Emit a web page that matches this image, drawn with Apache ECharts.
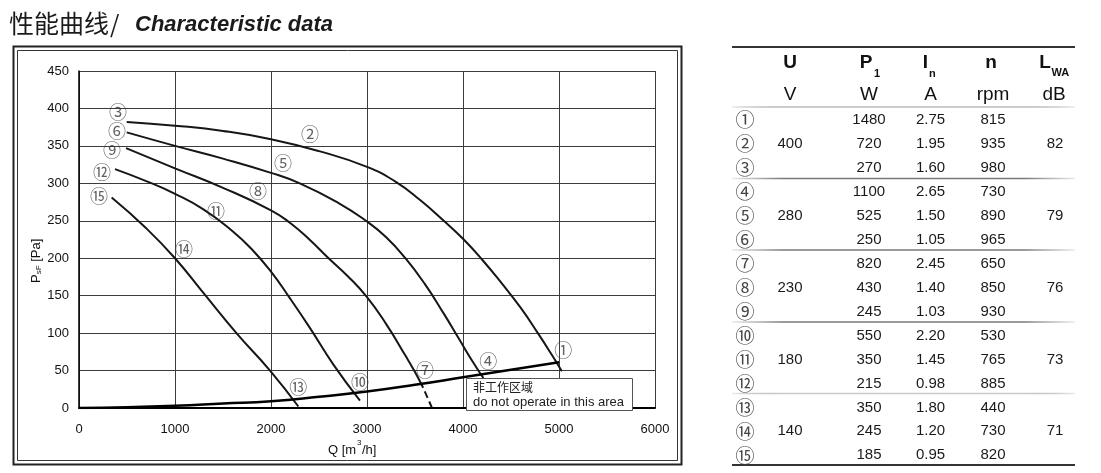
<!DOCTYPE html>
<html><head><meta charset="utf-8">
<script src="https://cdn.jsdelivr.net/npm/echarts@6/dist/echarts.min.js"></script>
<style>html,body{margin:0;padding:0;background:#fff}#c{width:1101px;height:473px}</style>
</head><body><div id="c"></div>
<script>
// ---------- data ----------
const xTickValues = [0, 1000, 2000, 3000, 4000, 5000, 6000];
const yTickValues = [0, 50, 100, 150, 200, 250, 300, 350, 400, 450];

// 400 V : (3) -> (2) -> (1)
const curve400 = [[497,382],[1000,377],[1500,370],[2000,359],[2500,343],[3000,322],[3300,302],[3550,278],[3800,250],[4000,226],[4200,198],[4400,167],[4600,134],[4780,100],[4920,72],[5030,49]];
// 280 V : (6) -> (5) -> (4)
const curve280 = [[497,368],[1000,350],[1500,333],[2000,314],[2300,300],[2700,274],[3000,249],[3200,228],[3400,200],[3600,166],[3800,126],[3950,94],[4100,62],[4212,40]];
// 230 V : (9) -> (8) -> (7)
const curve230 = [[490,347],[1000,320],[1500,294],[2000,264],[2200,247],[2400,225],[2600,200],[2800,176],[3000,148],[3200,112],[3400,70],[3500,48],[3585,27]];
const curve230Dashed = [[3585,27],[3674,1]];
// 180 V : (12) -> (11) -> (10)
const curve180 = [[375,319],[700,303],[1000,286],[1300,265],[1600,236],[1800,212],[2000,182],[2200,146],[2400,108],[2650,58],[2927,10]];
// 140 V : (15) -> (14) -> (13)
const curve140 = [[340,281],[700,240],[1000,200],[1300,153],[1640,100],[1990,50],[2285,2]];
// limit of operating area
const limitCurve = [[0,0],[500,1],[1000,3],[1500,6],[2000,9],[2500,15],[3000,22],[3500,31],[4000,41],[4500,51],[5000,61]];

// circled operating-point markers [label, Q, P]
const pointLabels = [['①',5045,77],['②',2406,366],['③',406,395],['④',4264,62],['⑤',2125,327],['⑥',396,370],['⑦',3604,51],['⑧',1865,290],['⑨',344,344],['⑩',2927,34],['⑪',1427,263],['⑫',240,315],['⑬',2285,28],['⑭',1094,212],['⑮',208,283]];

// table
const rowMarks = ['①','②','③','④','⑤','⑥','⑦','⑧','⑨','⑩','⑪','⑫','⑬','⑭','⑮'];
const voltages = ['400','280','230','180','140'];
const powerW = ['1480','720','270','1100','525','250','820','430','245','550','350','215','350','245','185'];
const currentA = ['2.75','1.95','1.60','2.65','1.50','1.05','2.45','1.40','1.03','2.20','1.45','0.98','1.80','1.20','0.95'];
const speedRpm = ['815','935','980','730','890','965','650','850','930','530','765','885','440','730','820'];
const soundDb = ['82','79','76','73','71'];

// ---------- chart ----------
const FONT = '"Liberation Sans", Arial, sans-serif';
const CJK = '"Noto Sans CJK SC", sans-serif';
const chart = echarts.init(document.getElementById('c'));

const lineBase = {type:'line', showSymbol:false, smooth:0.5, silent:true,
  lineStyle:{color:'#161616', width:2}, z:3};

const option = {
  animation:false,
  backgroundColor:'#fff',
  grid:{left:79, top:71, width:576, height:337},
  xAxis:{type:'value', min:xTickValues[0], max:xTickValues[xTickValues.length-1], interval:1000,
    axisLine:{show:true, onZero:false, lineStyle:{color:'#000', width:2}},
    axisTick:{show:false},
    axisLabel:{color:'#111', fontSize:13, fontFamily:FONT, margin:15, formatter:v => String(v)},
    splitLine:{show:true, lineStyle:{color:'#3c3c3c', width:1}}},
  yAxis:{type:'value', min:yTickValues[0], max:yTickValues[yTickValues.length-1], interval:50,
    axisLine:{show:true, onZero:false, lineStyle:{color:'#000', width:1.5}},
    axisTick:{show:false},
    axisLabel:{color:'#111', fontSize:13, fontFamily:FONT, margin:10, formatter:v => String(v)},
    splitLine:{show:true, lineStyle:{color:'#3c3c3c', width:1}}},
  series:[
    Object.assign({}, lineBase, {data:curve400}),
    Object.assign({}, lineBase, {data:curve280}),
    Object.assign({}, lineBase, {data:curve230}),
    Object.assign({}, lineBase, {data:curve230Dashed, smooth:false, lineStyle:{color:'#161616', width:2, type:[7,4], dashOffset:7}}),
    Object.assign({}, lineBase, {data:curve180}),
    Object.assign({}, lineBase, {data:curve140}),
    Object.assign({}, lineBase, {data:limitCurve, lineStyle:{color:'#000', width:2.5}, z:4}),
    {type:'scatter', symbolSize:0, silent:true, z:5,
      data:pointLabels.map(d => ({name:d[0], value:[d[1], d[2]]})),
      label:{show:true, position:'inside', formatter:p => p.name, fontSize:18, fontFamily:CJK, color:'#3a3a3a'}}
  ]
};
chart.setOption(option);

// ---------- graphic: frame, titles, axis names, note box, table ----------
const g = [];
// frame
g.push({type:'rect', shape:{x:13.5, y:46.5, width:668, height:418}, style:{fill:null, stroke:'#222', lineWidth:2}, z:1});
g.push({type:'rect', shape:{x:17.5, y:50.5, width:660, height:410}, style:{fill:null, stroke:'#333', lineWidth:1}, z:1});
// title
g.push({type:'text', style:{text:'性能曲线', x:9, y:23, verticalAlign:'middle', fontSize:25, fontFamily:CJK, fill:'#1a1a1a'}});
g.push({type:'text', style:{text:'/', x:110, y:24, verticalAlign:'middle', fontSize:24, fontFamily:CJK, fill:'#1a1a1a'}});
g.push({type:'text', style:{text:'Characteristic data', x:135, y:25, verticalAlign:'middle', fontSize:22, fontWeight:'bold', fontStyle:'italic', fontFamily:FONT, fill:'#1a1a1a'}});
// axis names
g.push({type:'text', style:{text:'Q [m', x:328, y:450, verticalAlign:'middle', fontSize:13, fontFamily:FONT, fill:'#111'}});
g.push({type:'text', style:{text:'3', x:357, y:443, verticalAlign:'middle', fontSize:8, fontFamily:FONT, fill:'#111'}});
g.push({type:'text', style:{text:'/h]', x:362, y:450, verticalAlign:'middle', fontSize:13, fontFamily:FONT, fill:'#111'}});
g.push({type:'text', rotation:Math.PI/2, x:36, y:283, style:{text:'{a|P}{b|sF}{a| [Pa]}', x:0, y:0, verticalAlign:'middle',
  rich:{a:{fontSize:13, fontFamily:FONT, fill:'#111'}, b:{fontSize:8, fontFamily:FONT, fill:'#111', verticalAlign:'bottom', padding:[6,0,0,0]}}}});
// note box
g.push({type:'rect', z:50, shape:{x:466.5, y:378.5, width:166, height:32}, style:{fill:'#fff', stroke:'#555', lineWidth:1}});
g.push({type:'text', z:51, style:{text:'非工作区域', x:473, y:387, verticalAlign:'middle', fontSize:12, fontFamily:CJK, fill:'#222'}});
g.push({type:'text', z:51, style:{text:'do not operate in this area', x:473, y:402.5, verticalAlign:'middle', fontSize:13, fontFamily:FONT, fill:'#222'}});

// table
const colX = {mark:745, u:790, p:869, i:930.5, n:993, l:1055};
const hdr = {fontSize:19, fontWeight:'bold', fontFamily:FONT, fill:'#111', align:'center', verticalAlign:'middle'};
const sub = {fontSize:11, fontWeight:'bold', fontFamily:FONT, fill:'#111', align:'left', verticalAlign:'middle'};
const unit = {fontSize:19, fontFamily:FONT, fill:'#111', align:'center', verticalAlign:'middle'};
const cell = {fontSize:15, fontFamily:FONT, fill:'#1a1a1a', align:'center', verticalAlign:'middle'};
g.push({type:'rect', shape:{x:732, y:46, width:343, height:2}, style:{fill:'#333'}});
g.push({type:'rect', shape:{x:732, y:464, width:343, height:2}, style:{fill:'#333'}});
g.push({type:'text', style:Object.assign({text:'U', x:colX.u, y:63}, hdr)});
g.push({type:'text', style:Object.assign({text:'P', x:866, y:63}, hdr)});
g.push({type:'text', style:Object.assign({text:'1', x:874, y:73.5}, sub)});
g.push({type:'text', style:Object.assign({text:'I', x:925.5, y:63}, hdr)});
g.push({type:'text', style:Object.assign({text:'n', x:929, y:73.5}, sub)});
g.push({type:'text', style:Object.assign({text:'n', x:991, y:63}, hdr)});
g.push({type:'text', style:Object.assign({text:'L', x:1045, y:63}, hdr)});
g.push({type:'text', style:Object.assign({text:'WA', x:1051.5, y:73}, sub)});
['V','W','A','rpm','dB'].forEach((t, k) => {
  const xs = [790, 869, 930.5, 993, 1054];
  g.push({type:'text', style:Object.assign({text:t, x:xs[k], y:95}, unit)});
});
const sepGrad = c => new echarts.graphic.LinearGradient(0,0,1,0,[
  {offset:0, color:'rgba(120,120,120,0.15)'},{offset:0.15, color:c},{offset:0.85, color:c},{offset:1, color:'rgba(120,120,120,0.15)'}]);
[107, 178.5, 250, 322, 393.5].forEach((y, k) => {
  g.push({type:'rect', shape:{x:732, y:y-0.75, width:343, height:1.5}, style:{fill:sepGrad(k===0 ? '#bbb' : (k===4 ? '#ccc' : '#777'))}});
});
rowMarks.forEach((m, r) => {
  const y = 120 + r * 23.95;
  g.push({type:'text', style:Object.assign({}, cell, {text:m, x:colX.mark, y:y, fontFamily:CJK, fontSize:19, fill:'#444'})});
  g.push({type:'text', style:Object.assign({text:powerW[r], x:colX.p, y:y}, cell)});
  g.push({type:'text', style:Object.assign({text:currentA[r], x:colX.i, y:y}, cell)});
  g.push({type:'text', style:Object.assign({text:speedRpm[r], x:colX.n, y:y}, cell)});
});
voltages.forEach((v, k) => {
  const y = 120 + (k * 3 + 1) * 23.95;
  g.push({type:'text', style:Object.assign({text:v, x:colX.u, y:y}, cell)});
  g.push({type:'text', style:Object.assign({text:soundDb[k], x:colX.l, y:y}, cell)});
});
chart.setOption({graphic:g});
</script></body></html>
